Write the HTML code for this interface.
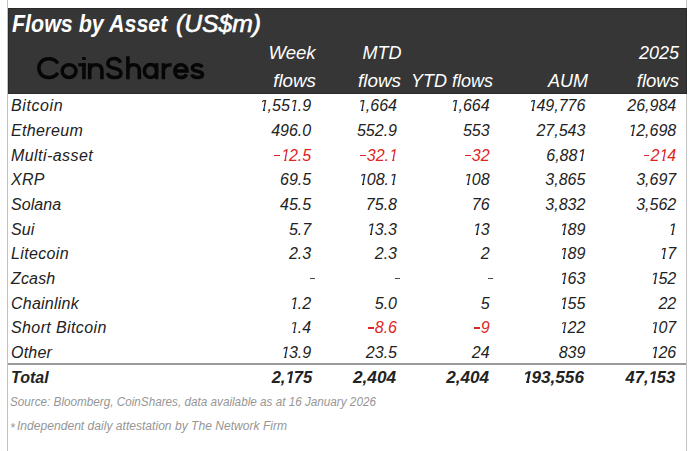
<!DOCTYPE html>
<html><head><meta charset="utf-8">
<style>
html,body{margin:0;padding:0;background:#fff;}
body{width:694px;height:451px;position:relative;overflow:hidden;font-family:"Liberation Sans",sans-serif;}
.vl{position:absolute;top:0;width:1px;height:451px;background:#c2c2c2;}
.hdr{position:absolute;left:8px;top:8px;width:679px;height:86px;background:#363636;box-shadow:inset 0 0 0 1px #2a2a2a;}
.t{position:absolute;white-space:nowrap;line-height:1;}
.title{font-size:23px;font-weight:bold;font-style:italic;color:#fff;}
.logo{font-size:31px;color:#0c0c0c;}
.h{font-size:18px;font-style:italic;color:#fff;text-align:right;}
.r{font-size:16px;font-style:italic;color:#222;}
.lab{letter-spacing:0.32px;}
.red{color:#e02424;}
.b{font-weight:bold;}
.oneb{display:inline-block;margin-right:-0.9px;clip-path:polygon(2.7px 14.6px,5.4px 14.6px,7.8px 1.8px,1.5px 1.8px,1.5px 6.4px,4.6px 4.8px);}
.mn{display:inline-block;width:5.3px;height:1.4px;background:currentColor;vertical-align:4.6px;margin-left:0.4px;margin-right:1.2px;}
.one{display:inline-block;position:relative;left:0px;margin-right:-0.9px;clip-path:polygon(2.9px 14.6px,5.0px 14.6px,7.4px 1.8px,2.3px 1.8px,2.3px 5.6px,4.8px 4.1px);}
.reg{font-weight:normal;-webkit-text-stroke:0.6px #fff;}
.line{position:absolute;left:8px;width:678px;top:363px;height:2px;background:#9a9a9a;}
.dash{position:absolute;width:5.2px;height:1.3px;background:#4a4a4a;}
.src{font-size:12.5px;font-style:italic;color:#969696;}
</style></head><body>
<div class="vl" style="left:7px"></div>
<div class="vl" style="left:686px"></div>
<div class="hdr"></div>
<div class="t title" style="top:13.33px;left:12.3px;transform:scaleX(0.9330);transform-origin:left top;">Flows by Asset</div>
<div class="t title reg" style="top:13.33px;left:176.3px;transform:scaleX(1.0740);transform-origin:left top;">(US$m)</div>
<svg style="position:absolute;left:0;top:0" width="694" height="100" viewBox="0 0 694 100"><g fill="none" stroke="#060606" stroke-width="3.55">
<path d="M57.7,63.4 C56.3,60.4 53,58.65 48.5,58.65 C42.6,58.65 38.85,62.8 38.85,68.05 C38.85,73.3 42.6,77.45 48.5,77.45 C53,77.45 56.3,75.7 57.7,72.7"/>
<ellipse cx="69.1" cy="71.1" rx="6.95" ry="6.45"/>
<path d="M89.7,79.2 V63.2 M89.7,71 C89.7,66.5 92.5,64.75 95.8,64.75 C99.1,64.75 101.9,66.5 101.9,71 V79.2"/>
<path d="M120.3,62.8 C119.5,60 117,58.55 114.3,58.55 C110.5,58.55 107.9,60.6 107.9,63.5 C107.9,66.8 110.8,67.6 114.3,68.3 C118.2,69.1 121,70.2 121,73.4 C121,76.2 118.3,77.55 114.3,77.55 C110.5,77.55 108.2,75.8 107.5,73"/>
<path d="M127.9,56.3 V79.2 M127.9,71 C127.9,66.5 130.5,64.75 133.6,64.75 C136.7,64.75 139.3,66.5 139.3,71 V79.2"/>
<ellipse cx="150.5" cy="71.05" rx="6.2" ry="6.5"/>
<path d="M156.6,63.2 V79.2"/>
<path d="M163.4,79.2 V63.2 M163.4,70.8 C163.4,66.6 165.8,64.65 171.6,64.65"/>
<path d="M174.85,71 H186.95 C186.95,67.5 184.3,64.65 180.9,64.65 C177.3,64.65 174.85,67.5 174.85,71.1 C174.85,74.8 177.3,77.55 180.9,77.55 C183.5,77.55 185.5,76.3 186.6,74.3"/>
<path d="M202,67.3 C201.4,65.6 199.5,64.75 197.3,64.75 C194.5,64.75 192.4,66 192.4,68 C192.4,70.3 194.8,70.8 197.3,71.2 C200,71.6 202.5,72.3 202.5,74.6 C202.5,76.6 200.3,77.55 197.3,77.55 C194.5,77.55 192.5,76.4 191.9,74.5"/>
</g><g fill="#070707"><rect x="82.1" y="63.2" width="3.6" height="16"/><rect x="78.2" y="63.2" width="7.5" height="3.2"/><rect x="82.1" y="57" width="3.6" height="3"/></g></svg>
<div class="t h" style="top:44.36px;right:378.00px;transform:scaleX(1.0350);transform-origin:right top;">Week</div>
<div class="t h" style="top:71.66px;right:378.00px;transform:scaleX(1.0450);transform-origin:right top;">flows</div>
<div class="t h" style="top:44.36px;right:292.50px;">MTD</div>
<div class="t h" style="top:71.66px;right:293.00px;transform:scaleX(1.0500);transform-origin:right top;">flows</div>
<div class="t h" style="top:71.66px;right:201.00px;">YTD flows</div>
<div class="t h" style="top:71.66px;right:106.00px;">AUM</div>
<div class="t h" style="top:44.36px;right:15.00px;">2025</div>
<div class="t h" style="top:71.66px;right:15.00px;transform:scaleX(1.0300);transform-origin:right top;">flows</div>
<div class="t r" style="top:98.16px;left:11px;letter-spacing:0.61px;">Bitcoin</div>
<div class="t r" style="top:98.16px;right:382.80px;"><span class="one">1</span>,55<span class="one">1</span>.9</div>
<div class="t r" style="top:98.16px;right:297.00px;"><span class="one">1</span>,664</div>
<div class="t r" style="top:98.16px;right:204.40px;"><span class="one">1</span>,664</div>
<div class="t r" style="top:98.16px;right:108.60px;"><span class="one">1</span>49,776</div>
<div class="t r" style="top:98.16px;right:17.80px;">26,984</div>
<div class="t r" style="top:122.85px;left:11px;letter-spacing:0.35px;">Ethereum</div>
<div class="t r" style="top:122.85px;right:382.80px;">496.0</div>
<div class="t r" style="top:122.85px;right:297.00px;">552.9</div>
<div class="t r" style="top:122.85px;right:204.40px;">553</div>
<div class="t r" style="top:122.85px;right:108.60px;">27,543</div>
<div class="t r" style="top:122.85px;right:17.80px;"><span class="one">1</span>2,698</div>
<div class="t r" style="top:147.54px;left:11px;letter-spacing:0.44px;">Multi-asset</div>
<div class="t r red" style="top:147.54px;right:382.80px;"><span class="mn"></span><span class="one">1</span>2.5</div>
<div class="t r red" style="top:147.54px;right:297.00px;"><span class="mn"></span>32.<span class="one">1</span></div>
<div class="t r red" style="top:147.54px;right:204.40px;"><span class="mn"></span>32</div>
<div class="t r" style="top:147.54px;right:108.60px;">6,88<span class="one">1</span></div>
<div class="t r red" style="top:147.54px;right:17.80px;"><span class="mn"></span>2<span class="one">1</span>4</div>
<div class="t r" style="top:172.23px;left:11px;letter-spacing:0.25px;">XRP</div>
<div class="t r" style="top:172.23px;right:382.80px;">69.5</div>
<div class="t r" style="top:172.23px;right:297.00px;"><span class="one">1</span>08.<span class="one">1</span></div>
<div class="t r" style="top:172.23px;right:204.40px;"><span class="one">1</span>08</div>
<div class="t r" style="top:172.23px;right:108.60px;">3,865</div>
<div class="t r" style="top:172.23px;right:17.80px;">3,697</div>
<div class="t r" style="top:196.92px;left:11px;letter-spacing:0.07px;">Solana</div>
<div class="t r" style="top:196.92px;right:382.80px;">45.5</div>
<div class="t r" style="top:196.92px;right:297.00px;">75.8</div>
<div class="t r" style="top:196.92px;right:204.40px;">76</div>
<div class="t r" style="top:196.92px;right:108.60px;">3,832</div>
<div class="t r" style="top:196.92px;right:17.80px;">3,562</div>
<div class="t r" style="top:221.61px;left:11px;letter-spacing:0.09px;">Sui</div>
<div class="t r" style="top:221.61px;right:382.80px;">5.7</div>
<div class="t r" style="top:221.61px;right:297.00px;"><span class="one">1</span>3.3</div>
<div class="t r" style="top:221.61px;right:204.40px;"><span class="one">1</span>3</div>
<div class="t r" style="top:221.61px;right:108.60px;"><span class="one">1</span>89</div>
<div class="t r" style="top:221.61px;right:17.80px;"><span class="one">1</span></div>
<div class="t r" style="top:246.30px;left:11px;letter-spacing:0.35px;">Litecoin</div>
<div class="t r" style="top:246.30px;right:382.80px;">2.3</div>
<div class="t r" style="top:246.30px;right:297.00px;">2.3</div>
<div class="t r" style="top:246.30px;right:204.40px;">2</div>
<div class="t r" style="top:246.30px;right:108.60px;"><span class="one">1</span>89</div>
<div class="t r" style="top:246.30px;right:17.80px;"><span class="one">1</span>7</div>
<div class="t r" style="top:270.99px;left:11px;letter-spacing:0.16px;">Zcash</div>
<div class="dash" style="left:309.60px;top:278.13px"></div>
<div class="dash" style="left:395.20px;top:278.13px"></div>
<div class="dash" style="left:487.50px;top:278.13px"></div>
<div class="t r" style="top:270.99px;right:108.60px;"><span class="one">1</span>63</div>
<div class="t r" style="top:270.99px;right:17.80px;"><span class="one">1</span>52</div>
<div class="t r" style="top:295.68px;left:11px;letter-spacing:0.24px;">Chainlink</div>
<div class="t r" style="top:295.68px;right:382.80px;"><span class="one">1</span>.2</div>
<div class="t r" style="top:295.68px;right:297.00px;">5.0</div>
<div class="t r" style="top:295.68px;right:204.40px;">5</div>
<div class="t r" style="top:295.68px;right:108.60px;"><span class="one">1</span>55</div>
<div class="t r" style="top:295.68px;right:17.80px;">22</div>
<div class="t r" style="top:320.37px;left:11px;letter-spacing:0.39px;">Short Bitcoin</div>
<div class="t r" style="top:320.37px;right:382.80px;"><span class="one">1</span>.4</div>
<div class="t r red" style="top:320.37px;right:297.00px;"><span class="mn"></span>8.6</div>
<div class="t r red" style="top:320.37px;right:204.40px;"><span class="mn"></span>9</div>
<div class="t r" style="top:320.37px;right:108.60px;"><span class="one">1</span>22</div>
<div class="t r" style="top:320.37px;right:17.80px;"><span class="one">1</span>07</div>
<div class="t r" style="top:345.06px;left:11px;letter-spacing:0.22px;">Other</div>
<div class="t r" style="top:345.06px;right:382.80px;"><span class="one">1</span>3.9</div>
<div class="t r" style="top:345.06px;right:297.00px;">23.5</div>
<div class="t r" style="top:345.06px;right:204.40px;">24</div>
<div class="t r" style="top:345.06px;right:108.60px;">839</div>
<div class="t r" style="top:345.06px;right:17.80px;"><span class="one">1</span>26</div>
<div class="line"></div>
<div class="t r b" style="top:369.56px;left:11px;">Total</div>
<div class="t r b" style="top:369.56px;right:381.80px;transform:scaleX(1.0350);transform-origin:right top;">2,<span class="oneb">1</span>75</div>
<div class="t r b" style="top:369.56px;right:297.50px;transform:scaleX(1.0750);transform-origin:right top;">2,404</div>
<div class="t r b" style="top:369.56px;right:205.30px;transform:scaleX(1.0700);transform-origin:right top;">2,404</div>
<div class="t r b" style="top:369.56px;right:110.50px;transform:scaleX(1.0720);transform-origin:right top;"><span class="oneb">1</span>93,556</div>
<div class="t r b" style="top:369.56px;right:18.80px;transform:scaleX(1.0300);transform-origin:right top;">47,<span class="oneb">1</span>53</div>
<div class="t src" style="top:395.72px;left:10px;transform:scaleX(0.9370);transform-origin:left top;">Source: Bloomberg, CoinShares, data available as at 16 January 2026</div>
<div class="t src" style="top:421.65px;left:9.9px;">*</div>
<div class="t src" style="top:420.40px;left:16.6px;transform:scaleX(0.9670);transform-origin:left top;">Independent daily attestation by The Network Firm</div>
</body></html>
